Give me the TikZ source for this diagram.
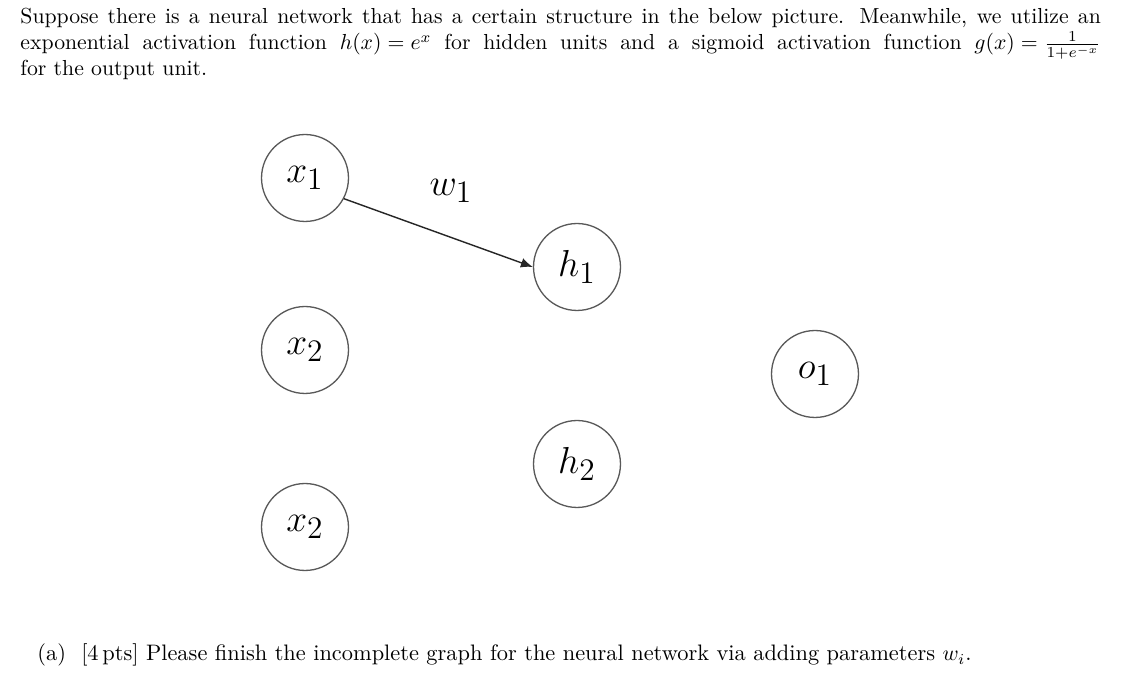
\documentclass[tikz,border=0pt]{standalone}
\usepackage{amsmath}
\usetikzlibrary{arrows.meta}
\begin{document}
\begin{tikzpicture}[x=0.46pt,y=-0.46pt,
  unit/.style={circle,draw=black!65,line width=0.6pt,minimum size=40pt,inner sep=0pt,
    font=\fontsize{19}{22}\selectfont},
  para/.style={anchor=base west,inner sep=0pt,font=\fontsize{10}{12}\selectfont},
  conn/.style={draw=black!85,line width=0.65pt,-{Latex[length=5.5pt,width=4.5pt]}}]
\useasboundingbox (0,0) rectangle (1130,682);
\fill[white] (0,0) rectangle (1130,682);
% text
\node[para] (t1) at (20,24) {\makebox[497pt][s]{Suppose there is a neural network that has a certain structure in the below picture. Meanwhile, we utilize an}};
\node[para] (t2) at (20,50) {\makebox[497pt][s]{exponential activation function \mbox{$h(x) = e^x$} for hidden units and a sigmoid activation function \mbox{$g(x) = \frac{1}{1+e^{-x}}$}}};
\node[para] (t3) at (20,76) {for the output unit.};
\node[para,font=\fontsize{10.3}{12}\selectfont] (t4) at (37,661) {(a)\hspace{7pt}[4\,pts] Please finish the incomplete graph for the neural network via adding parameters $w_i$.};
% units
\node[unit] (x1) at (305,178) {$x_1$};
\node[unit] (x2) at (305,350) {$x_2$};
\node[unit] (x3) at (305,527) {$x_2$};
\node[unit] (h1) at (577,267) {$h_1$};
\node[unit] (h2) at (577,464) {$h_2$};
\node[unit] (o1) at (815,374) {$o_1$};
% connector
\draw[conn] (x1.-28) -- (h1.west);
\node[font=\fontsize{19}{22}\selectfont,inner sep=0pt] (w1) at (451,191) {$w_1$};
\end{tikzpicture}
\end{document}
